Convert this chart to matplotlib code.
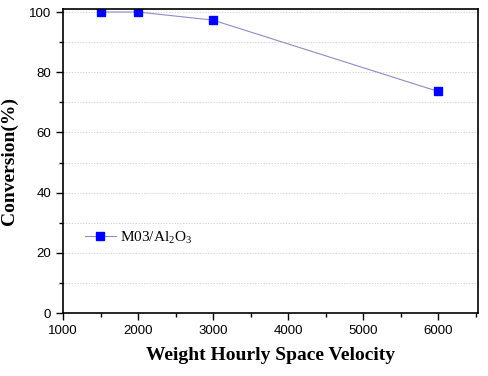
import matplotlib.pyplot as plt
from matplotlib.ticker import MultipleLocator

whsv = [1500, 2000, 3000, 6000]
conversion = [100.0, 100.0, 97.3, 73.6]
series_label = 'M03/Al$_2$O$_3$'

plt.rcParams['mathtext.fontset'] = 'custom'
plt.rcParams['mathtext.rm'] = 'Liberation Serif'
plt.rcParams['mathtext.it'] = 'Liberation Serif:italic'
plt.rcParams['mathtext.bf'] = 'Liberation Serif:bold'

fig = plt.figure(figsize=(4.89, 3.76), dpi=100)
ax = fig.add_axes([63 / 489, 1 - 313 / 376, 415 / 489, 304 / 376])

ax.plot(whsv, conversion, color='#8c8cc8', linewidth=0.8, marker='s',
        markersize=6, markerfacecolor='#0000ff', markeredgecolor='#0000ff',
        label=series_label)

ax.set_xlim(1000, 6530)
ax.set_ylim(0, 101)
ax.xaxis.set_major_locator(MultipleLocator(1000))
ax.xaxis.set_minor_locator(MultipleLocator(500))
ax.yaxis.set_major_locator(MultipleLocator(20))
ax.yaxis.set_minor_locator(MultipleLocator(10))
ax.tick_params(which='both', direction='out', top=False, right=False)
ax.tick_params(which='major', length=5, width=1)
ax.tick_params(which='minor', length=3, width=1)
for lab in ax.get_xticklabels() + ax.get_yticklabels():
    lab.set_fontfamily('Liberation Sans')
    lab.set_fontsize(9.5)

ax.grid(axis='y', which='both', color='#c8c8c8', linestyle=(0, (2, 2)),
        linewidth=0.5)
ax.set_axisbelow(True)
for sp in ax.spines.values():
    sp.set_linewidth(1.2)

ax.set_xlabel('Weight Hourly Space Velocity', fontfamily='Liberation Serif',
              fontweight='bold', fontsize=14, labelpad=7)
ax.set_ylabel('Conversion(%)', fontfamily='Liberation Serif',
              fontweight='bold', fontsize=14, labelpad=8)

leg = ax.legend(loc='upper left', bbox_to_anchor=(0.02, 0.32), frameon=False,
                prop={'family': 'Liberation Serif', 'size': 11},
                handlelength=2.0, handletextpad=0.3, markerscale=0.85)

fig.savefig('out.png', dpi=100)
